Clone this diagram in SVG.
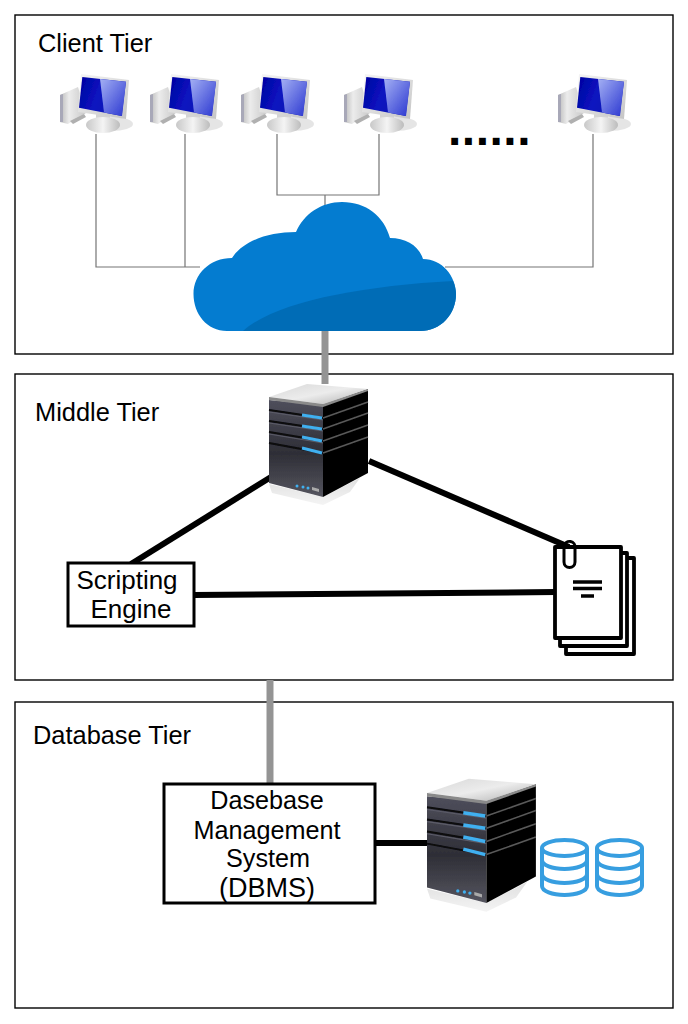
<svg xmlns="http://www.w3.org/2000/svg" width="688" height="1024" viewBox="0 0 688 1024">
<style>
.tier{fill:#fff;stroke:#000;stroke-width:1.4}
.box{fill:#fff;stroke:#000;stroke-width:3}
text{font-family:"Liberation Sans",Arial,sans-serif;font-size:25.4px;fill:#000}
.c{text-anchor:middle;font-size:25.2px}
.thin{fill:none;stroke:#757575;stroke-width:1.2}
.gray{fill:none;stroke:#949494;stroke-width:7}
.thick{fill:none;stroke:#000;stroke-width:6}
.doc{fill:#fff;stroke:#000;stroke-width:3.8;stroke-linejoin:round}
.db{fill:none;stroke:#379ee0;stroke-width:4}
</style>
<defs>
<filter id="soft" x="-5%" y="-5%" width="110%" height="110%"><feGaussianBlur stdDeviation=".45"/></filter>
<filter id="glow" x="-20%" y="-100%" width="140%" height="300%"><feGaussianBlur stdDeviation=".7"/></filter>
<linearGradient id="scr" x1="0" y1="0" x2="1" y2="0.3"><stop offset="0" stop-color="#00009e"/><stop offset=".5" stop-color="#0a14c0"/><stop offset="1" stop-color="#0a14b0"/></linearGradient>
<linearGradient id="gls" x1="0" y1="0" x2="1" y2="1"><stop offset="0" stop-color="#a4b0f4"/><stop offset="1" stop-color="#2a36d0"/></linearGradient>
<linearGradient id="frm" x1="0" y1="0" x2="1" y2="1"><stop offset="0" stop-color="#f6f6f6"/><stop offset="1" stop-color="#c4c4c4"/></linearGradient>
<linearGradient id="twr" x1="0" y1="0" x2="1" y2="0"><stop offset="0" stop-color="#b8b8b8"/><stop offset=".35" stop-color="#ececec"/><stop offset="1" stop-color="#c8c8c8"/></linearGradient>
<linearGradient id="bse" x1="0" y1="0" x2="1" y2="0"><stop offset="0" stop-color="#c8c8c8"/><stop offset=".5" stop-color="#f4f4f4"/><stop offset="1" stop-color="#bcbcbc"/></linearGradient>
<linearGradient id="sl" x1="0" y1="0" x2="0" y2="1"><stop offset="0" stop-color="#4f4f5c"/><stop offset=".55" stop-color="#2e2e36"/><stop offset="1" stop-color="#55555f"/></linearGradient>
<linearGradient id="st" x1="0" y1="0" x2="1" y2="1"><stop offset="0" stop-color="#d8d8d8"/><stop offset=".5" stop-color="#ececec"/><stop offset="1" stop-color="#b0b0b0"/></linearGradient>
<linearGradient id="sb" x1="0" y1="0" x2="0" y2="1"><stop offset="0" stop-color="#e0e0e0"/><stop offset="1" stop-color="#f4f4f4"/></linearGradient>
<g id="pc" filter="url(#soft)">
<ellipse cx="112" cy="124" rx="21" ry="7" fill="#000" opacity=".1"/>
<path d="M60 95 78 87 86 113 68 124 60 122Z" fill="url(#twr)"/>
<path d="M60 95 63 94 63 122 60 122Z" fill="#a8a8b8"/>
<path d="M70 121 84 114 86 117 73 124Z" fill="#b0b0b0"/>
<path d="M96 113 110 115 110 122 96 122Z" fill="#d4d4d4"/>
<ellipse cx="103" cy="125" rx="17" ry="8" fill="url(#bse)"/>
<path d="M81 74 129 80 126 119 78 112Z" fill="url(#frm)"/>
<path d="M82.300 77 126 81.700 121.700 116 79 107.700Z" fill="url(#scr)"/>
<path d="M100 79 126 81.700 122 116 104 112.500Z" fill="url(#gls)"/>
</g>
<g id="srv" filter="url(#soft)">
<path d="M269 484 323 497 360 478 350 492 323 505 272 493Z" fill="url(#sb)"/>
<path d="M269 400 323 405 323 497 269 483Z" fill="url(#sl)"/>
<path d="M323 405 368 389 368 473 323 497Z" fill="#030303"/>
<path d="M269 397 307 384 368 389 323 404Z" fill="url(#st)"/>
<path d="M269 397 323 404 368 389 368 391 323 407 269 400Z" fill="#8a8a8a"/>
<path d="M269 410 323 418M269 421 323 429M269 432 323 441M269 443 323 453" stroke="#08080c" stroke-width="1.800" fill="none"/>
<path d="M269 412 323 420M269 423 323 431M269 434 323 443" stroke="#5c5c68" stroke-width="1" fill="none"/>
<path d="M323 418 368 402M323 429 368 413M323 441 368 425M323 453 368 437" stroke="#5a5a5a" stroke-width="1.400" fill="none"/>
<path d="M302 415 322 418M302 426 322 429M302 437 322 441M302 448 322 453" stroke="#3fb0f0" stroke-width="3.200" fill="none" filter="url(#glow)"/>
<circle cx="297" cy="486" r="1.500" fill="#3fb0f0"/><circle cx="303" cy="487" r="1.500" fill="#3fb0f0"/><circle cx="308" cy="488" r="1.500" fill="#3fb0f0"/>
<path d="M312 487 319 489 319 492 312 490Z" fill="#aaa"/>
</g>
<g id="dbi">
<ellipse cx="24.500" cy="10" rx="22.500" ry="8"/>
<path d="M2 10V22C2 27 12 31 24.500 31S47 27 47 22V10M2 22V36C2 41 12 45 24.500 45S47 41 47 36V22M2 36V48C2 53 12 57 24.500 57S47 53 47 48V36"/>
</g>
</defs>
<g id="client-tier"><rect class="tier" x="15" y="15" width="658" height="339"/><text x="38" y="52">Client Tier</text></g>
<g id="middle-tier"><rect class="tier" x="15" y="374" width="658" height="306"/><text x="35" y="421">Middle Tier</text></g>
<g id="database-tier"><rect class="tier" x="15" y="702" width="658" height="306"/><text x="33" y="744">Database Tier</text></g>
<g id="connectors">
<path class="thin" d="M96 134V267H200M185 134V267M277 134V195H379V134M325 195V210M593 134V267H445"/>
<path class="gray" d="M325 328V384"/>
<path class="gray" d="M270 680V785"/>
<path class="thick" d="M369 461 569 547"/>
<path class="thick" d="M271 477 131 564"/>
<path class="thick" d="M194 595 556 592"/>
<path class="thick" d="M375 843H428"/>
</g>
<g id="pc1"><use href="#pc"/></g>
<g id="pc2"><use href="#pc" x="90"/></g>
<g id="pc3"><use href="#pc" x="181"/></g>
<g id="pc4"><use href="#pc" x="284"/></g>
<g id="pc5"><use href="#pc" x="498"/></g>
<g id="ellipsis"><text x="448" y="145" style="font-size:48px;font-weight:bold;letter-spacing:.5px">......</text></g>
<g id="cloud">
<path d="M227 331C207 331 193.500 314 193.500 294C193.500 274 210 258 232 258C243 241 268 232 296 232C304 214 321 202 342 202C366 202 384 216 390 238C406 238 419 246 423 259C442 259 456 276 456 294C456 314 441 331 420 331Z" fill="#047cd0"/>
<path d="M243 331C275 302 360 286 453 281C455 286 456 290 456 294C456 314 441 331 420 331Z" fill="#006cb6"/>
</g>
<g id="web-server"><use href="#srv"/></g>
<g id="scripting-engine"><rect class="box" x="68" y="563" width="126" height="63"/><text class="c" x="127" y="589" style="font-size:26px">Scripting</text><text class="c" x="131" y="618" style="font-size:26px">Engine</text></g>
<g id="documents">
<rect class="doc" x="566" y="558" width="68" height="96"/>
<rect class="doc" x="560" y="553" width="67" height="93"/>
<rect class="doc" x="555" y="547" width="66" height="91"/>
<path d="M564 546V562A5.500 5.500 0 0 0 575 562V548A5.500 5.500 0 0 0 564 546" fill="none" stroke="#000" stroke-width="3"/>
<path d="M573 582H602M573 588.500H602M581 596H594" stroke="#000" stroke-width="3.400" fill="none"/>
</g>
<g id="dbms"><rect class="box" x="164" y="784" width="211" height="119"/><text class="c" x="267" y="809">Dasebase</text><text class="c" x="267" y="839">Management</text><text class="c" x="268" y="867">System</text><text class="c" x="267" y="897" style="font-size:27px">(DBMS)</text></g>
<g id="db-server"><use href="#srv" transform="translate(427 793) scale(1.1) translate(-269 -397)"/></g>
<g id="databases"><use href="#dbi" class="db" x="540" y="838"/><use href="#dbi" class="db" x="595" y="838"/></g>
</svg>
